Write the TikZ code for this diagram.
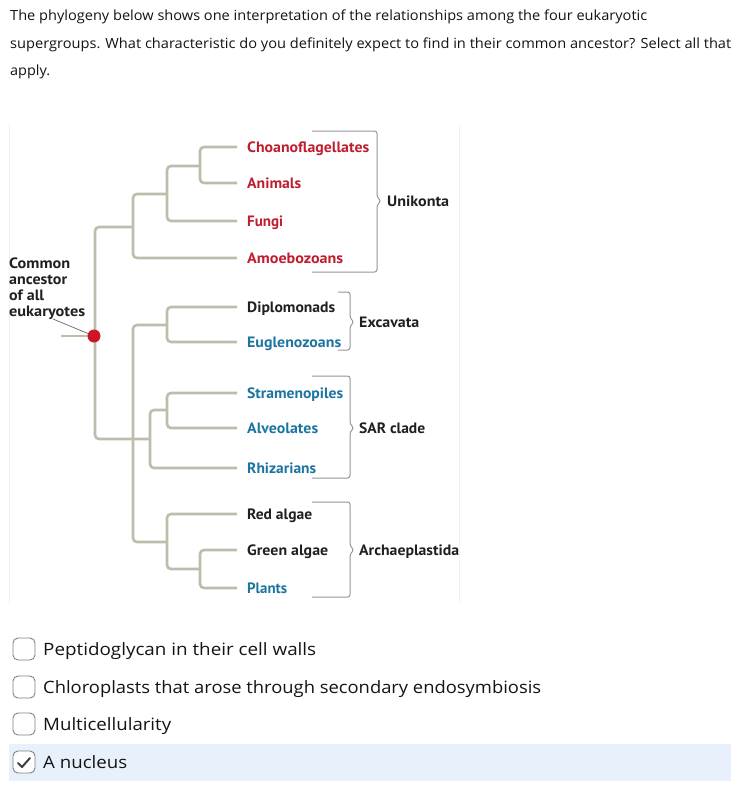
\documentclass[tikz,border=0pt]{standalone}
\usepackage{fontspec}
\setmainfont{Open Sans}
\newfontfamily\treefont{PT Sans}
\usepackage{graphicx}
\definecolor{treeline}{RGB}{190,189,172}
\definecolor{brk}{RGB}{150,150,150}
\definecolor{lred}{RGB}{190,30,45}
\definecolor{lblue}{RGB}{28,117,160}
\definecolor{lblack}{RGB}{35,31,32}
\definecolor{dotred}{RGB}{204,22,40}
\definecolor{band}{RGB}{232,241,251}
\definecolor{boxgray}{RGB}{130,130,130}
\definecolor{qtext}{RGB}{20,20,20}
\definecolor{panel}{RGB}{240,240,240}
\newcommand{\fitw}[2]{\resizebox{#1pt}{\height}{#2}}
\tikzset{
  branch/.style={draw=treeline, line width=2.6pt, rounded corners=4pt},
  bracket/.style={draw=brk, line width=1pt, rounded corners=2.5pt},
  leaf/.style={anchor=west, inner sep=0pt, font=\treefont\bfseries\fontsize{15}{17}\selectfont, text height=10.5pt, text depth=0pt},
  redleaf/.style={leaf, text=lred},
  blueleaf/.style={leaf, text=lblue},
  blackleaf/.style={leaf, text=lblack},
  caline/.style={anchor=base west, inner sep=0pt, text=lblack, font=\treefont\bfseries\fontsize{15}{17}\selectfont},
  qline/.style={anchor=base west, inner sep=0pt, font=\fontsize{14}{16}\selectfont, text=qtext},
  opt/.style={anchor=base west, inner sep=0pt, font=\fontsize{17}{20}\selectfont, text=qtext},
  cbox/.style={draw=boxgray, line width=0.9pt, fill=white, rounded corners=5pt, minimum width=22pt, minimum height=22pt, inner sep=0pt},
}
\begin{document}
\begin{tikzpicture}[x=1pt,y=-1pt]
\useasboundingbox (0,0) rectangle (749,787);
\fill[white] (0,0) rectangle (749,787);

% question
\node[qline] (q1) at (10,20) {\fitw{637}{The phylogeny below shows one interpretation of the relationships among the four eukaryotic}};
\node[qline] (q2) at (10,48) {\fitw{721}{supergroups. What characteristic do you definitely expect to find in their common ancestor? Select all that}};
\node[qline] (q3) at (10,75) {\fitw{40}{apply.}};

% panel edges
\draw[panel, line width=0.8pt] (9,125) -- (9,603);
\draw[panel, line width=0.8pt] (459,125) -- (459,603);

% leaves
\node[redleaf]  (cho) at (247,147) {\fitw{122}{Choanoflagellates}};
\node[redleaf]  (ani) at (247,183) {\fitw{54}{Animals}};
\node[redleaf]  (fun) at (247,221) {\fitw{36}{Fungi}};
\node[redleaf]  (amo) at (247,258) {\fitw{96}{Amoebozoans}};
\node[blackleaf](dip) at (247,307) {\fitw{88}{Diplomonads}};
\node[blueleaf] (eug) at (247,342) {\fitw{94}{Euglenozoans}};
\node[blueleaf] (str) at (247,393) {\fitw{96}{Stramenopiles}};
\node[blueleaf] (alv) at (247,428) {\fitw{71}{Alveolates}};
\node[blueleaf] (rhi) at (247,468) {\fitw{69}{Rhizarians}};
\node[blackleaf](red) at (247,514) {\fitw{65}{Red algae}};
\node[blackleaf](gre) at (247,550) {\fitw{81}{Green algae}};
\node[blueleaf] (pla) at (247,588) {\fitw{40}{Plants}};

% tree
\draw[branch] (237,147) -- (200,147) -- (200,183) -- (237,183);
\draw[branch] (200,166) -- (167,166) -- (167,221) -- (237,221);
\draw[branch] (167,194) -- (133,194) -- (133,258) -- (237,258);
\draw[branch] (133,227) -- (95,227) -- (95,439) -- (150,439);
\draw[branch] (61,336) -- (95,336);
\draw[branch] (237,307) -- (167,307) -- (167,342) -- (237,342);
\draw[branch] (167,325) -- (133,325) -- (133,542) -- (167,542);
\draw[branch] (237,393) -- (167,393) -- (167,428) -- (237,428);
\draw[branch] (167,410) -- (150,410) -- (150,468) -- (237,468);
\draw[branch] (237,514) -- (167,514) -- (167,569) -- (200,569);
\draw[branch] (237,550) -- (200,550) -- (200,588) -- (237,588);

% root dot and pointer
\node[circle, fill=dotred, inner sep=0pt, minimum size=13pt] (root) at (94,336) {};
\node[caline] (ca1) at (9,268) {\fitw{61}{Common}};
\node[caline] (ca2) at (9,284) {\fitw{58}{ancestor}};
\node[caline] (ca3) at (9,300) {\fitw{35}{of all}};
\node[caline] (ca4) at (9,316) {\fitw{76}{eukaryotes}};
\coordinate (pstart) at (53,319);
\draw[gray!80!black, line width=0.7pt] (pstart) -- (root);

% brackets
\draw[bracket] (312,131) -- (377,131) -- (377,197) -- (381,201) -- (377,205) -- (377,272) -- (312,272);
\draw[bracket] (338,292) -- (350,292) -- (350,318) -- (354,322) -- (350,326) -- (350,350) -- (338,350);
\draw[bracket] (312,376) -- (350,376) -- (350,424) -- (354,428) -- (350,432) -- (350,478) -- (312,478);
\draw[bracket] (312,502) -- (350,502) -- (350,546) -- (354,550) -- (350,554) -- (350,597) -- (312,597);
\node[blackleaf] (uni) at (387,201) {\fitw{62}{Unikonta}};
\node[blackleaf] (exc) at (359,322) {\fitw{60}{Excavata}};
\node[blackleaf] (sar) at (359,428) {\fitw{66}{SAR clade}};
\node[blackleaf] (arc) at (359,550) {\fitw{100}{Archaeplastida}};

% options
\fill[band] (9,744) rectangle (731,781);
\node[cbox] (b1) at (24,649) {};
\node[cbox] (b2) at (24,687) {};
\node[cbox] (b3) at (24,724) {};
\node[cbox] (b4) at (24,762) {};
\draw[black!75, line width=2pt, line cap=round, line join=round] ([shift={(-6,1)}]b4.center) -- ([shift={(-2,5)}]b4.center) -- ([shift={(6,-4)}]b4.center);
\node[opt] (o1) at (43,655) {\fitw{273}{Peptidoglycan in their cell walls}};
\node[opt] (o2) at (43,693) {\fitw{498}{Chloroplasts that arose through secondary endosymbiosis}};
\node[opt] (o3) at (43,730) {\fitw{128}{Multicellularity}};
\node[opt] (o4) at (43,768) {\fitw{84}{A nucleus}};
\end{tikzpicture}
\end{document}
